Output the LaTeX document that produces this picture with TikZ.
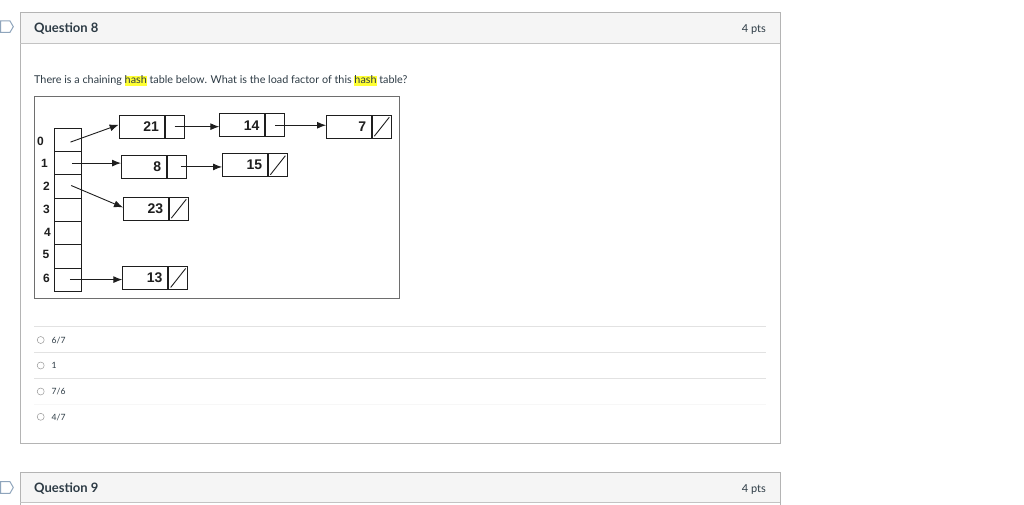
\documentclass[tikz,border=0pt]{standalone}
\usepackage{fontspec}
\setmainfont{Lato}
\newfontfamily\arialf{Liberation Sans}
\usetikzlibrary{arrows.meta,calc}
\definecolor{txt}{HTML}{2D3B45}
\definecolor{cardline}{HTML}{B4B4B4}
\definecolor{headfill}{HTML}{F5F5F5}
\definecolor{sepline}{HTML}{E2E2E2}
\definecolor{faintline}{HTML}{F7F7F7}
\definecolor{iconc}{HTML}{8FA5BC}
\definecolor{hly}{HTML}{FFFF33}
\definecolor{diag}{HTML}{1E1E1E}
\definecolor{frame}{HTML}{6E6E6E}
\newcommand\hlt[1]{\begingroup\setlength{\fboxsep}{0pt}\colorbox{hly}{\rule[-2.4pt]{0pt}{10.7pt}#1}\endgroup}
\begin{document}
\begin{tikzpicture}[x=1pt,y=-1pt,
  cell/.style={draw=diag, line width=0.9pt, minimum width=27pt, minimum height=23.3pt, inner sep=0pt, anchor=north west},
  datacell/.style={draw=diag, line width=0.9pt, minimum height=23pt, text width=34.5pt, inner xsep=5.25pt, inner ysep=0pt, align=right, anchor=north west, font=\arialf\bfseries\fontsize{14}{14}\selectfont, text=diag},
  ptrcell/.style={draw=diag, line width=0.9pt, minimum width=19pt, minimum height=23pt, inner sep=0pt, anchor=west},
  nullcell/.style={ptrcell, path picture={\draw[diag, line width=0.9pt] ([shift={(2,-2)}]path picture bounding box.south west) -- ([shift={(-2,2)}]path picture bounding box.north east);}},
  idx/.style={font=\arialf\bfseries\fontsize{12}{12}\selectfont, text=diag, inner sep=0pt},
  link/.style={draw=diag, line width=0.9pt, -{Latex[length=9pt,width=7pt]}},
  qtitle/.style={font=\bfseries\fontsize{13}{13}\selectfont, text=txt, inner sep=0pt, anchor=base west},
  pts/.style={font=\fontsize{11}{11}\selectfont, text=txt, inner sep=0pt, anchor=base east},
  opt/.style={font=\fontsize{8.6}{8.6}\selectfont, text=txt, inner sep=0pt, anchor=base west},
  radio/.style={draw=gray!80, line width=0.5pt, circle, minimum size=7pt, inner sep=0pt},
  tag/.style={draw=iconc, line width=1pt, line join=miter}
]
\useasboundingbox (0,0) rectangle (1024,505);
\fill[white] (0,0) rectangle (1024,505);

% ---------- Question 8 card ----------
\fill[headfill] (20,12) rectangle (780,43.3);
\draw[cardline, line width=0.8pt] (20,12) rectangle (780,443);
\draw[cardline!80, line width=0.8pt] (20,43.3) -- (780,43.3);
\draw[tag] (0.5,21) -- (10,21) -- (13.3,26.7) -- (10,32.3) -- (0.5,32.3) -- cycle;
\node[qtitle] (q8) at (34,32.3) {Question 8};
\node[pts] (p8pts) at (766,32.3) {4 pts};

\node[font=\fontsize{10.8}{10.8}\selectfont, text=txt, inner sep=0pt, anchor=base west] (qtext) at (34,84)
  {There is a chaining \hlt{hash} table below. What is the load factor of this \hlt{hash} table?};

% picture frame
\draw[frame, line width=0.8pt] (34,96) rectangle (399,298.5);

% array
\foreach \i in {0,...,6} {
  \node[cell] (c\i) at (54,{127.7+23.3*\i}) {};
}
\node[idx] (i0) at (40.5,141) {0};
\node[idx] (i1) at (44.5,163.5) {1};
\node[idx] (i2) at (46.5,186) {2};
\node[idx] (i3) at (46.5,209) {3};
\node[idx] (i4) at (47.5,232.5) {4};
\node[idx] (i5) at (46,254.5) {5};
\node[idx] (i6) at (46.5,278.5) {6};

% list nodes
\node[datacell] (n21) at (118.7,114.7) {21};
\node[ptrcell] (p21) at (n21.east) {};
\node[datacell] (n14) at (219.3,113.3) {14};
\node[ptrcell] (p14) at (n14.east) {};
\node[datacell] (n7) at (326,114.7) {7};
\node[nullcell] (p7) at (n7.east) {};
\node[datacell] (n8) at (121,155) {8};
\node[ptrcell] (p8) at (n8.east) {};
\node[datacell] (n15) at (222,153.3) {15};
\node[nullcell] (p15) at (n15.east) {};
\node[datacell] (n23) at (123,196.7) {23};
\node[nullcell] (p23) at (n23.east) {};
\node[datacell] (n13) at (122.3,266) {13};
\node[nullcell] (p13) at (n13.east) {};

% links
\draw[link] ([shift={(2.5,2.3)}]c0.center) -- ([shift={(0,-1.9)}]n21.west);
\draw[link] ([xshift=4pt]c1.center) -- (c1.center -| n8.west);
\draw[link] ([shift={(3.2,-0.9)}]c2.center) -- ([shift={(0,-1.2)}]n23.west);
\draw[link] ([xshift=2pt]c6.center) -- (c6.center -| n13.west);
\draw[link] (p21.center) -- (p21.center -| n14.west);
\draw[link] (p14.center) -- (p14.center -| n7.west);
\draw[link] ([xshift=4pt]p8.center) -- (p8.center -| n15.west);

% options
\draw[sepline, line width=0.8pt] (34,326) -- (766,326);
\draw[sepline, line width=0.8pt] (34,352.3) -- (766,352.3);
\draw[sepline, line width=0.8pt] (34,378.3) -- (766,378.3);
\draw[faintline, line width=0.5pt] (34,404) -- (766,404);
\node[radio] (r1) at (40.7,340) {};
\node[opt] (o1) at (51.5,343) {6/7};
\node[radio] (r2) at (40.7,365.5) {};
\node[opt] (o2) at (51.5,368.7) {1};
\node[radio] (r3) at (40.7,391.5) {};
\node[opt] (o3) at (51.5,394.7) {7/6};
\node[radio] (r4) at (40.7,416.8) {};
\node[opt] (o4) at (51.5,420) {4/7};

% ---------- Question 9 card ----------
\fill[headfill] (20,472.7) rectangle (780,502.7);
\draw[cardline, line width=0.8pt] (20,510) -- (20,472.7) -- (780,472.7) -- (780,510);
\draw[cardline!80, line width=0.8pt] (20,502.7) -- (780,502.7);
\draw[tag] (0.5,481.7) -- (10,481.7) -- (13.3,487.5) -- (10,493.3) -- (0.5,493.3) -- cycle;
\node[qtitle] (q9) at (34,492.3) {Question 9};
\node[pts] (p9pts) at (766,492.3) {4 pts};
\end{tikzpicture}
\end{document}
